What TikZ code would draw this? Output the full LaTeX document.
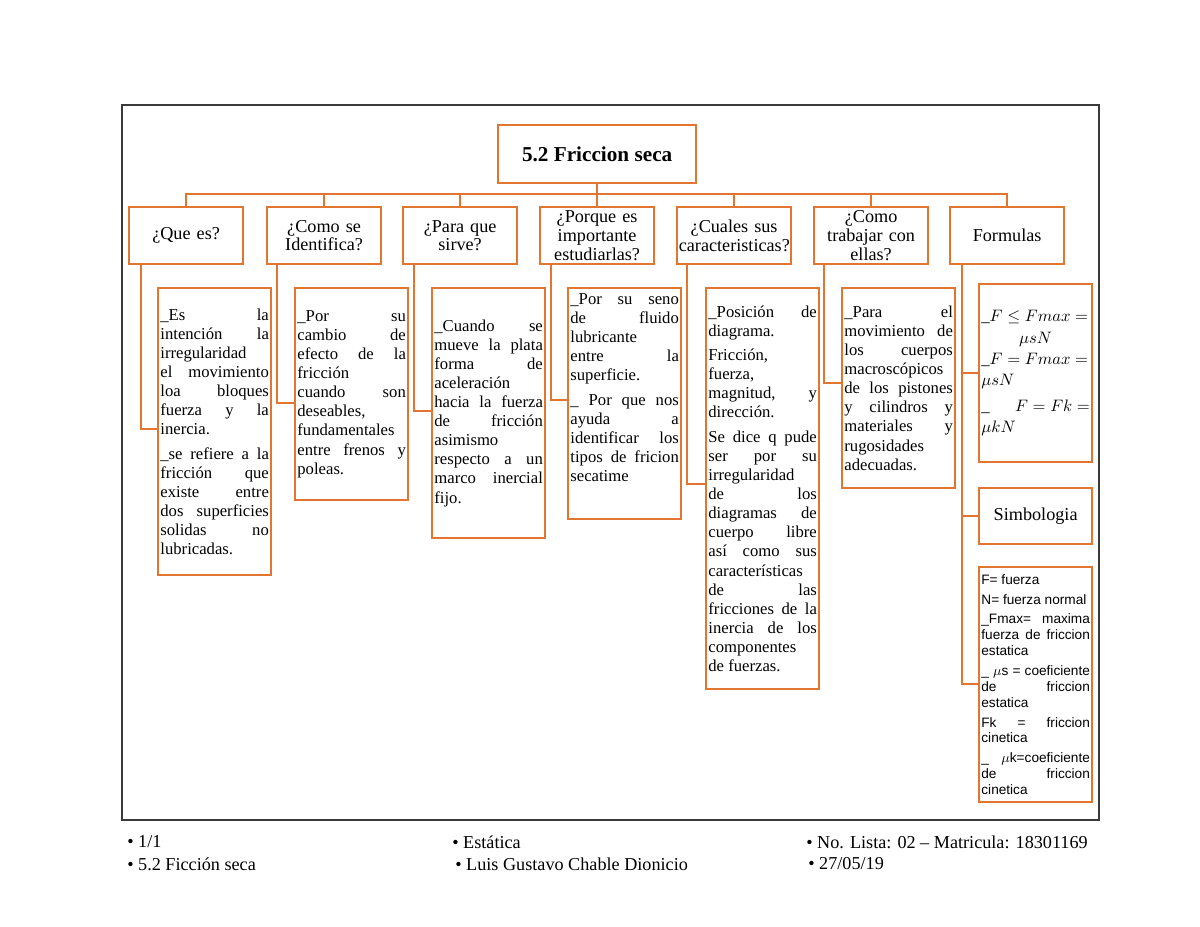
\documentclass[tikz,border=0pt]{standalone}
\usepackage{fontspec}
\setmainfont{Liberation Serif}
\setsansfont{Liberation Sans}
\usetikzlibrary{calc}
\definecolor{orng}{HTML}{E2752F}
\definecolor{frm}{HTML}{3A3A3A}
\newcommand\pp{\par\vspace{3.5pt}}
\newcommand\ps{\par\vspace{2.5pt}}
\hyphenpenalty=10000
\exhyphenpenalty=10000
\begin{document}
\begin{tikzpicture}[x=0.66pt,y=-0.66pt,
  box/.style={draw=orng, line width=1.5pt, inner sep=0pt},
  lvl/.style={box, anchor=north west, minimum width=75.2pt, minimum height=37.6pt, text width=73pt, align=center, font=\fontsize{12}{12.4}\selectfont},
  det/.style={box, anchor=north west, minimum width=74.6pt, inner xsep=1.5pt, text width=71.6pt, align=justify, font=\fontsize{11}{12.6}\selectfont},
  conn/.style={draw=orng, line width=1.5pt},
  foot/.style={anchor=west, inner sep=0pt, font=\fontsize{12}{14}\selectfont}
]
\useasboundingbox (0,0) rectangle (1200,927);
\draw[frm, line width=1pt] (122,105) rectangle (1099,820);

% title
\node[box, anchor=north west, minimum width=130.7pt, minimum height=38.3pt, font=\fontsize{14}{16}\selectfont\bfseries] (title) at (497,124) {5.2 Friccion seca};

% level 1
\node[lvl] (q1) at (128,206) {¿Que es?};
\node[lvl] (q2) at (266,206) {¿Como se\\Identifica?};
\node[lvl] (q3) at (402,206) {¿Para que\\sirve?};
\node[lvl] (q4) at (539,206) {¿Porque es\\importante\\estudiarlas?};
\node[lvl] (q5) at (676,206) {¿Cuales sus\\caracteristicas?};
\node[lvl] (q6) at (813,206) {¿Como\\trabajar con\\ellas?};
\node[lvl] (q7) at (949,206) {Formulas};

% bus
\coordinate (bus) at (596,194);
\draw[conn] (title.south) -- (title.south |- bus);
\draw[conn] (q1.north) -- (q1.north |- bus) -- (q7.north |- bus) -- (q7.north);
\foreach \n in {q2,q3,q4,q5,q6} \draw[conn] (\n.north) -- (\n.north |- bus);

% details
\node[det, minimum height=189.4pt] (d1) at (157,287) {\_Es la\linebreak intención la\linebreak irregularidad\linebreak el movimiento\linebreak loa bloques\linebreak fuerza y la\linebreak inercia.\pp \_se refiere a la\linebreak fricción que\linebreak existe entre\linebreak dos superficies\linebreak solidas no\linebreak lubricadas.};

\node[det, minimum height=139.9pt] (d2) at (294,287) {\_Por su\linebreak cambio de\linebreak efecto de la\linebreak fricción\linebreak cuando son\linebreak deseables,\linebreak fundamentales\linebreak entre frenos y\linebreak poleas.};

\node[det, minimum height=165pt] (d3) at (431,287) {\_Cuando se\linebreak mueve la plata\linebreak forma de\linebreak aceleración\linebreak hacia la fuerza\linebreak de fricción\linebreak asimismo\linebreak respecto a un\linebreak marco inercial\linebreak fijo.};

\node[det, minimum height=152.5pt] (d4) at (567,287) {\_Por su seno\linebreak de fluido\linebreak lubricante\linebreak entre la\linebreak superficie.\pp \_ Por que nos\linebreak ayuda a\linebreak identificar los\linebreak tipos de fricion\linebreak secatime\par\rule{0pt}{20pt}};

\node[det, minimum height=264.7pt] (d5) at (705,287) {\_Posición de\linebreak diagrama.\pp Fricción,\linebreak fuerza,\linebreak magnitud, y\linebreak dirección.\pp Se dice q pude\linebreak ser por su\linebreak irregularidad\linebreak de los\linebreak diagramas de\linebreak cuerpo libre\linebreak así como sus\linebreak características\linebreak de las\linebreak fricciones de la\linebreak inercia de los\linebreak componentes\linebreak de fuerzas.};

\node[det, minimum height=132pt] (d6) at (841,287) {\_Para el\linebreak movimiento de\linebreak los cuerpos\linebreak macroscópicos\linebreak de los pistones\linebreak y cilindros y\linebreak materiales y\linebreak rugosidades\linebreak adecuadas.};

\node[det, minimum height=117.5pt, font=\fontsize{11}{14}\selectfont] (f1) at (978,283) {\_$F \leq Fmax =$\par{\centering $\mu sN$\par}\_$F = Fmax =$\par $\mu sN$\par\vspace{3pt}\_\hfill$F = Fk =$\par $\mu kN$};

\node[box, anchor=north west, minimum width=74.6pt, minimum height=37pt, font=\fontsize{12}{14}\selectfont] (s1) at (978,487) {Simbologia};

\node[det, minimum height=155.1pt, font=\sffamily\fontsize{9}{10.5}\selectfont] (s2) at (978,566) {F= fuerza\ps N= fuerza normal\ps \_Fmax= maxima\linebreak fuerza de friccion\linebreak estatica\ps \_ $\mu$s = coeficiente\linebreak de friccion\linebreak estatica\ps Fk = friccion\linebreak cinetica\ps \_ \ $\mu$k=coeficiente\linebreak de friccion\linebreak cinetica};

% connectors
\draw[conn] ($(q1.south west)+(13,0)$) |- ($(d1.north west)+(0,142)$);
\draw[conn] ($(q2.south west)+(11,0)$) |- ($(d2.north west)+(0,116)$);
\draw[conn] ($(q3.south west)+(12,0)$) |- ($(d3.north west)+(0,124)$);
\draw[conn] ($(q4.south west)+(12,0)$) |- ($(d4.north west)+(0,113)$);
\draw[conn] ($(q5.south west)+(11,0)$) |- ($(d5.north west)+(0,197)$);
\draw[conn] ($(q6.south west)+(11,0)$) |- ($(d6.north west)+(0,96)$);
\draw[conn] ($(q7.south west)+(13,0)$) |- ($(s2.north west)+(0,118)$);
\draw[conn] ($(q7.south west)+(13,0)$) |- ($(f1.north west)+(0,90)$);
\draw[conn] ($(q7.south west)+(13,0)$) |- ($(s1.north west)+(0,29)$);

% footer
\node[foot] (ft1) at (127,842) {• 1/1};
\node[foot] (ft2) at (127,864) {• 5.2 Ficción seca};
\node[foot] (ft3) at (452,842) {• Estática};
\node[foot] (ft4) at (455,864) {• Luis Gustavo Chable Dionicio};
\node[foot] (ft5) at (806,842) {• No. Lista: 02 – Matricula: 18301169};
\node[foot] (ft6) at (808,864) {• 27/05/19};
\end{tikzpicture}
\end{document}
